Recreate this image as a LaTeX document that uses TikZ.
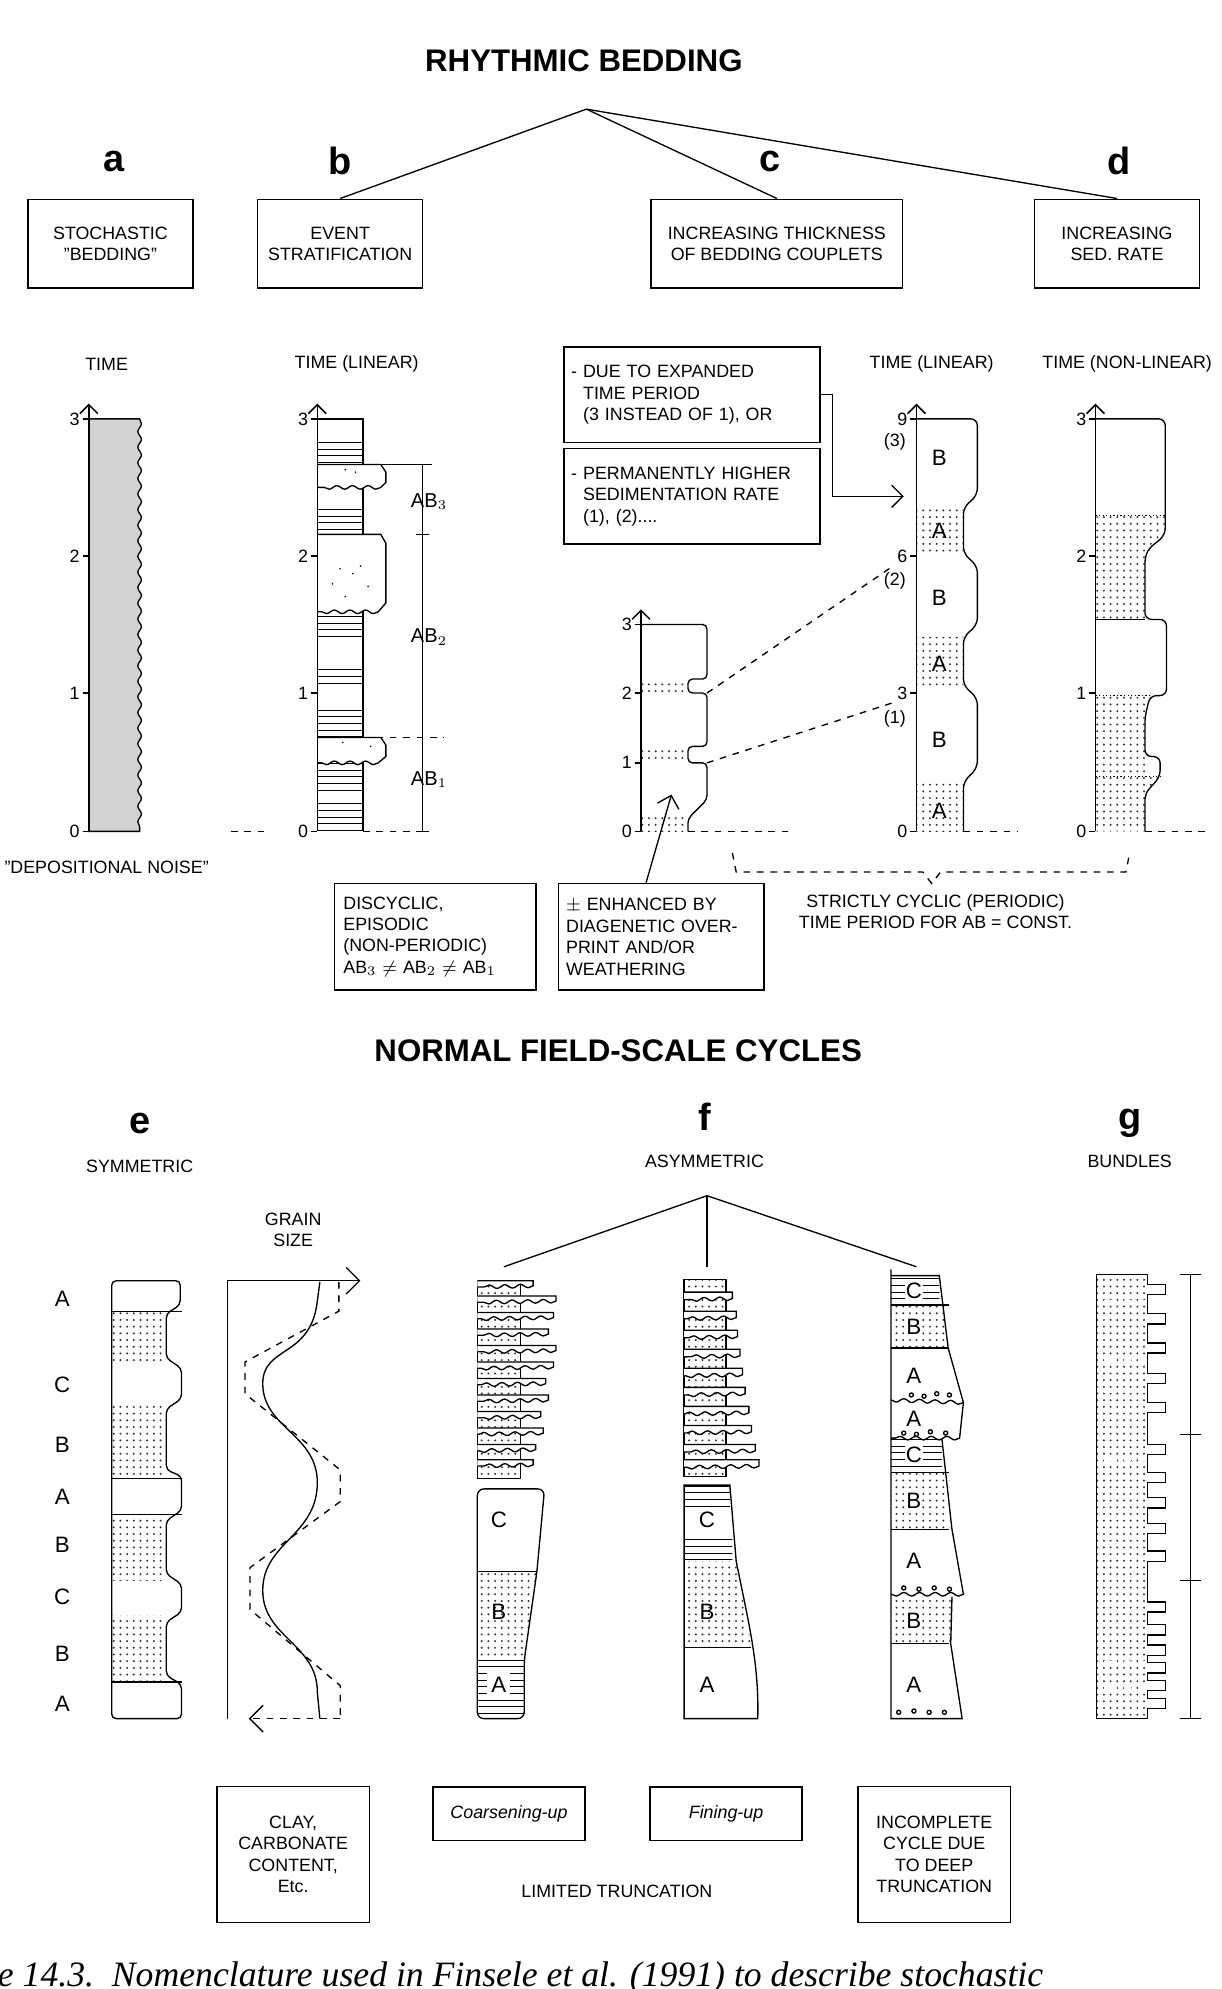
\documentclass[tikz,border=0pt]{standalone}
\usepackage{fontspec}
\setmainfont{Liberation Sans}
\newfontfamily\capfont{Liberation Serif}
\usetikzlibrary{patterns,decorations.pathmorphing,arrows.meta}

\tikzset{
  lbl/.style={font=\fontsize{8}{9.6}\selectfont, inner sep=1pt},
  head/.style={font=\fontsize{14}{16}\selectfont\bfseries},
  letter/.style={font=\fontsize{17}{19}\selectfont\bfseries},
  box/.style={draw, line width=0.7pt, align=center, font=\fontsize{8}{9.6}\selectfont},
  dotfill/.style={pattern=dots, pattern color=black!80},
  hatch/.style={pattern=horizontal lines, pattern color=black},
  wavy/.style={decorate, decoration={snake, amplitude=0.8pt, segment length=7pt}},
}
\newcommand\timeaxis[2]{% #1 = x of axis, #2 = name
  \draw[-{Straight Barb[length=4pt]}, line width=0.7pt] (#1,655) -- (#1,318);
  \foreach \t/\y in {0/655,1/546,2/438,3/330}{
    \draw (#1-5,\y) -- (#1,\y);
    \node[lbl, left] (#2\t) at (#1-5,\y) {\t};
  }
}

\begin{document}
\begin{tikzpicture}[x=0.02cm, y=-0.02cm, line width=0.6pt]
\useasboundingbox (0,0) rectangle (962,1567);

% ---------- rhythmic bedding
\node[head] (title1) at (460,48) {RHYTHMIC BEDDING};
\coordinate (apex1) at (462,86);
\node[letter] (la) at (90,127) {a};
\node[letter] (lb) at (268,127) {b};
\node[letter] (lc) at (607,127) {c};
\node[letter] (ld) at (882,127) {d};
\node[box, minimum width=2.6cm, minimum height=1.4cm] (boxa) at (87,192) {STOCHASTIC\\"BEDDING"};
\node[box, minimum width=2.6cm, minimum height=1.4cm] (boxb) at (268,192) {EVENT\\STRATIFICATION};
\node[box, minimum width=3.96cm, minimum height=1.4cm] (boxc) at (612,192) {INCREASING THICKNESS\\OF BEDDING COUPLETS};
\node[box, minimum width=2.6cm, minimum height=1.4cm] (boxd) at (880,192) {INCREASING\\SED. RATE};
\draw (apex1) -- (boxb.north);
\draw (apex1) -- (boxc.north);
\draw (apex1) -- (boxd.north);

% column a
\node[lbl] (timea) at (84,287) {TIME};
\fill[gray!35] (70,330) -- (110,330) decorate[wavy] {-- (110,655)} -- (70,655) -- cycle;
\draw (70,330) -- (110,330) decorate[wavy] {-- (110,655)} -- (70,655);
\timeaxis{70}{ta}
\draw[dashed] (182,655) -- (210,655);
\node[lbl] (noisea) at (84,683) {"DEPOSITIONAL NOISE"};

% column b
\node[lbl] (timeb) at (281,287) {TIME (LINEAR)};
\draw (250,330) -- (286,330) -- (286,655);
\foreach \ya/\yb in {348/366,399/419,485/505,525/540,556/581,601/626,631/655}
  \fill[hatch] (250,\ya) rectangle (286,\yb);
\draw[fill=white] (250,366) -- (300,366) -- (304,372) -- (304,380) -- (300,384) decorate[wavy] {-- (250,384)};
\draw[fill=white] (250,421) -- (300,421) -- (304,428) -- (304,475) -- (298,482) decorate[wavy] {-- (250,482)};
\draw[fill=white] (250,581) -- (300,581) -- (304,587) -- (304,596) -- (298,601) decorate[wavy] {-- (250,601)};
\foreach \px/\py in {272/370,280/372,268/448,278/452,284/446,262/460,290/462,272/470,270/585,292/588}
  \fill (\px,\py) circle (0.7);
\timeaxis{250}{tb}
\draw (286,366) -- (340,366);
\draw (333,366) -- (333,655);
\draw (328,421) -- (338,421);
\draw (328,655) -- (338,655);
\draw[dashed] (286,581) -- (350,581);
\draw[dashed] (286,655) -- (333,655);
\node[lbl, font=\fontsize{9}{10}\selectfont] (ab3) at (338,395) {AB$_3$};
\node[lbl, font=\fontsize{9}{10}\selectfont] (ab2) at (338,502) {AB$_2$};
\node[lbl, font=\fontsize{9}{10}\selectfont] (ab1) at (338,614) {AB$_1$};

% column c, short section
\fill[dotfill] (505,535) rectangle (542,546);
\fill[dotfill] (505,588) rectangle (542,601);
\fill[dotfill] (505,641) rectangle (542,655);
\draw[-{Straight Barb[length=4pt]}, line width=0.7pt] (505,655) -- (505,480);
\foreach \t/\y in {0/655,1/601,2/546,3/492}{
  \draw (500,\y) -- (505,\y);
  \node[lbl, left] (tc\t) at (500,\y) {\t};
}
\draw[rounded corners=2pt] (505,492) -- (557,492) -- (557,535) -- (542,535) -- (542,546) -- (557,546) -- (557,588) -- (542,588) -- (542,601) -- (557,601) -- (557,630) -- (542,645) -- (542,655);
\draw[dashed] (542,655) -- (623,655);
\coordinate (cs2) at (557,546);
\coordinate (cs1) at (557,601);

% column c, long section
\node[lbl] (timec) at (734,287) {TIME (LINEAR)};
\foreach \ya/\yb in {399/437,502/543,616/655}
  \fill[dotfill] (722,\ya) rectangle (759,\yb);
\draw[rounded corners=3pt] (722,330) -- (770,330) -- (770,390) -- (759,400) -- (759,436) -- (770,446) -- (770,492) -- (759,502) -- (759,540) -- (770,550) -- (770,605) -- (759,616) -- (759,655);
\draw[-{Straight Barb[length=4pt]}, line width=0.7pt] (722,655) -- (722,318);
\foreach \t/\y in {0/655,3/546,6/438,9/330}{
  \draw (717,\y) -- (722,\y);
  \node[lbl, left] (tl\t) at (717,\y) {\t};
}
\node[lbl] (p1) at (705,566) {(1)};
\node[lbl] (p2) at (705,458) {(2)};
\node[lbl] (p3) at (705,348) {(3)};
\foreach \n/\y in {B/361,A/418,B/471,A/523,B/583,A/639}
  \node[lbl, font=\fontsize{10}{11}\selectfont] at (740,\y) {\n};
\draw[dashed] (759,655) -- (802,655);
\draw[dashed] (cs2) -- (tl6.south west);
\draw[dashed] (cs1) -- (tl3.south west);

\node[box, minimum width=4cm, minimum height=1.5cm, align=left, text width=3.8cm] (due) at (545,311) {- DUE TO EXPANDED\\\ \ TIME PERIOD\\\ \ (3 INSTEAD OF 1), OR};
\node[box, minimum width=4cm, minimum height=1.5cm, align=left, text width=3.8cm] (perm) at (545,391) {- PERMANENTLY HIGHER\\\ \ SEDIMENTATION RATE\\\ \ (1), (2)....};
\draw[-{Straight Barb[length=5pt]}] (due.east) -- (656,311) -- (656,391) -- (712,391);

% column d
\node[lbl] (timed) at (888,287) {TIME (NON-LINEAR)};
\fill[dotfill] (863,406) -- (918,406) .. controls (918,430) and (902,425) .. (902,450) -- (902,488) -- (863,488) -- cycle;
\fill[dotfill] (863,548) -- (910,548) .. controls (902,555) .. (902,570) -- (902,612) -- (863,612) -- cycle;
\fill[dotfill] (863,612) -- (914,612) .. controls (902,625) .. (902,640) -- (902,655) -- (863,655) -- cycle;
\draw[rounded corners=3pt] (863,330) -- (918,330) -- (918,410) .. controls (918,430) and (902,425) .. (902,450) -- (902,488) -- (919,488) -- (919,548) -- (906,548) -- (902,565) -- (902,596) -- (914,596) -- (914,612) .. controls (902,625) .. (902,640) -- (902,655);
\draw[densely dotted] (863,406) -- (918,406);
\draw (863,488) -- (902,488);
\draw[densely dotted] (863,548) -- (906,548);
\draw[densely dotted] (863,612) -- (914,612);
\timeaxis{863}{td}
\draw[dashed] (902,655) -- (950,655);

% brace and notes
\draw[dashed] (577,672) -- (580,687) -- (727,687) -- (734,696) -- (741,687) -- (887,687) -- (890,672);
\node[lbl, align=center] (strict) at (737,718) {STRICTLY CYCLIC (PERIODIC)\\TIME PERIOD FOR AB = CONST.};
\node[box, minimum width=3.18cm, minimum height=1.68cm, align=left, text width=2.9cm] (disc) at (343,738) {DISCYCLIC,\\EPISODIC\\(NON-PERIODIC)\\AB$_3$ $\neq$ AB$_2$ $\neq$ AB$_1$};
\node[box, minimum width=3.14cm, minimum height=1.68cm, align=left, text width=3.0cm] (enh) at (521,738) {$\pm$ ENHANCED BY\\DIAGENETIC OVER-\\PRINT AND/OR\\WEATHERING};
\draw[-{Straight Barb[length=5pt]}] (enh.north) ++(-12,0) coordinate (enhtop) -- (529,626);

% ---------- normal field-scale cycles
\node[head] (title2) at (487,828) {NORMAL FIELD-SCALE CYCLES};
\node[letter] (le) at (110,885) {e};
\node[letter] (lf) at (555,880) {f};
\node[letter] (lg) at (890,885) {g};
\node[lbl] (sym) at (110,919) {SYMMETRIC};
\node[lbl] (asym) at (555,915) {ASYMMETRIC};
\node[lbl] (bund) at (890,915) {BUNDLES};
\node[lbl, align=center] (grain) at (231,969) {GRAIN\\SIZE};
\coordinate (apex2) at (557,942);
\draw (apex2) -- (397,998);
\draw (apex2) -- (557,998);
\draw (apex2) -- (722,998);

% column e
\foreach \n/\y in {A/1023,C/1091,B/1138,A/1179,B/1217,C/1258,B/1303,A/1342}
  \node[lbl, font=\fontsize{10}{11}\selectfont] at (49,\y) {\n};
\foreach \ya/\yb in {1033/1075,1105/1165,1193/1245,1273/1325}
  \fill[dotfill] (88,\ya) rectangle (131,\yb);
\draw[rounded corners=2pt] (88,1009) -- (142,1009) -- (142,1028) -- (131,1035) -- (131,1070) -- (143,1078) -- (143,1102) -- (131,1110) -- (131,1158) -- (143,1163) -- (143,1190) -- (131,1198) -- (131,1240) -- (143,1248) -- (143,1270) -- (131,1278) -- (131,1320) -- (143,1327) -- (143,1354) -- (88,1354) -- cycle;
\foreach \y in {1033,1165,1193,1325} \draw (88,\y) -- (143,\y);

% grain size curves
\draw (179,1354) -- (179,1009);
\draw[-{Straight Barb[length=6pt]}] (179,1009) -- (284,1009);
\draw[dashed, -{Straight Barb[length=6pt]}] (268,1354) -- (196,1354);
\draw (252,1010) -- (250,1025) .. controls (245,1070) and (207,1060) .. (207,1090) .. controls (207,1125) and (250,1130) .. (250,1168) .. controls (250,1210) and (207,1215) .. (207,1253) .. controls (207,1290) and (250,1295) .. (250,1333) -- (252,1354);
\draw[dashed] (267,1010) -- (267,1033) -- (193,1073) -- (193,1098) -- (268,1158) -- (268,1183) -- (197,1235) -- (197,1268) -- (268,1328) -- (268,1354);

% column f, coarsening-up
\fill[dotfill] (376,1009) rectangle (410,1165);
\draw (376,1009) -- (376,1165) -- (410,1165) -- (410,1009);
\foreach \y/\r in {1009/420,1021/438,1034/436,1047/432,1060/438,1073/436,1086/430,1099/432,1112/426,1125/428,1138/422,1150/420}
  \draw[fill=white] (376,\y) -- (\r,\y) -- (\r,\y+4) decorate[wavy] {-- (376,\y+5)};
\fill[hatch] (376,1308) rectangle (413,1354);
\fill[dotfill] (376,1238) -- (423,1238) -- (413,1308) -- (376,1308) -- cycle;
\draw[rounded corners=3pt] (376,1354) -- (376,1173) -- (429,1173) -- (423,1238) -- (413,1308) -- (413,1354) -- cycle;
\draw (376,1238) -- (423,1238);
\fill[white] (384,1318) rectangle (402,1336);
\node[lbl, font=\fontsize{10}{11}\selectfont] (fa1) at (393,1327) {A};
\node[lbl, font=\fontsize{10}{11}\selectfont] (fb1) at (393,1270) {B};
\node[lbl, font=\fontsize{10}{11}\selectfont] (fc1) at (393,1197) {C};

% column f, fining-up
\fill[dotfill] (539,1008) rectangle (572,1163);
\draw (539,1008) -- (539,1163) -- (572,1163) -- (572,1008) -- cycle;
\foreach \y/\r in {1018/577,1033/580,1048/581,1063/583,1078/585,1093/587,1108/590,1123/592,1138/595,1150/598}
  \draw[fill=white] (539,\y) -- (\r,\y) -- (\r,\y+5) decorate[wavy] {-- (539,\y+6)};
\fill[hatch] (539,1170) rectangle (575,1188);
\fill[hatch] (539,1208) rectangle (577,1230);
\fill[dotfill] (539,1230) -- (580,1230) -- (592,1298) -- (539,1298) -- cycle;
\draw (539,1354) -- (539,1170) -- (575,1170) -- (580,1230) .. controls (590,1280) and (598,1310) .. (597,1354) -- cycle;
\draw (539,1298) -- (592,1298);
\node[lbl, font=\fontsize{10}{11}\selectfont, fill=white] (fc2) at (557,1197) {C};
\node[lbl, font=\fontsize{10}{11}\selectfont] (fb2) at (557,1270) {B};
\node[lbl, font=\fontsize{10}{11}\selectfont] (fa2) at (557,1327) {A};

% column f, deep truncation
\fill[hatch] (702,1005) rectangle (740,1028);
\fill[dotfill] (702,1028) rectangle (746,1062);
\fill[hatch] (702,1133) rectangle (742,1160);
\fill[dotfill] (702,1160) rectangle (748,1205);
\fill[dotfill] (702,1258) rectangle (749,1295);
\draw (702,1000) -- (702,1354) -- (758,1354) -- (749,1295) -- (750,1258);
\draw (702,1005) -- (740,1005) -- (747,1062) -- (759,1105) decorate[wavy] {-- (702,1103)};
\draw (759,1105) -- (756,1133) decorate[wavy] {-- (702,1133)};
\draw (742,1133) -- (750,1205) -- (759,1256) decorate[wavy] {-- (702,1256)};
\foreach \y in {1028,1062,1160,1205,1295} \draw (702,\y) -- (748,\y);
\foreach \px/\py in {718/1099,728/1100,738/1098,748/1099,712/1129,722/1130,733/1128,745/1129,712/1251,724/1252,736/1251,748/1252,708/1349,720/1348,732/1349,744/1349}
  \draw (\px,\py) circle (1.6);
\foreach \n/\y in {C/1017,B/1045,A/1084,A/1118,C/1146,B/1182,A/1230,B/1277,A/1327}
  \node[lbl, font=\fontsize{10}{11}\selectfont, fill=white, inner sep=0.5pt] at (720,\y) {\n};

% column g
\fill[dotfill] (864,1004) rectangle (904,1354);
\foreach \y in {1025,1048,1072,1096,1150,1170,1190,1212,1270,1290,1310,1330}
  \draw[white, densely dotted, line width=1.2pt] (866,\y) -- (902,\y);
\draw (904,1004) -- (864,1004) -- (864,1354) -- (904,1354);
\draw (904,1004) foreach \y in {1012,1035,1058,1082,1105,1138,1160,1180,1200,1222,1262,1280,1296,1310,1324,1338} {
    -- (904,\y) -- (918,\y) -- (918,\y+8) -- (904,\y+8)} -- (904,1354);
\draw (938,1004) -- (938,1354);
\foreach \y in {1004,1130,1245,1354} \draw (930,\y) -- (946,\y);

% boxes below
\node[box, minimum width=2.4cm, minimum height=2.14cm] (clay) at (231,1461) {CLAY,\\CARBONATE\\CONTENT,\\Etc.};
\node[box, minimum width=2.4cm, minimum height=0.84cm, font=\fontsize{8}{9.6}\selectfont\itshape] (coars) at (401,1429) {Coarsening-up};
\node[box, minimum width=2.4cm, minimum height=0.84cm, font=\fontsize{8}{9.6}\selectfont\itshape] (fining) at (572,1429) {Fining-up};
\node[box, minimum width=2.4cm, minimum height=2.14cm] (incompl) at (736,1461) {INCOMPLETE\\CYCLE DUE\\TO DEEP\\TRUNCATION};
\node[lbl] (limit) at (486,1490) {LIMITED TRUNCATION};

% caption (cut off at the page edge, as in the source)
\node[anchor=north west, inner sep=0pt, font=\capfont\itshape\fontsize{16}{18}\selectfont] (capt) at (-12,1545) {re 14.3.\ \ Nomenclature used in Finsele et al. (1991) to describe stochastic};
\end{tikzpicture}
\end{document}
